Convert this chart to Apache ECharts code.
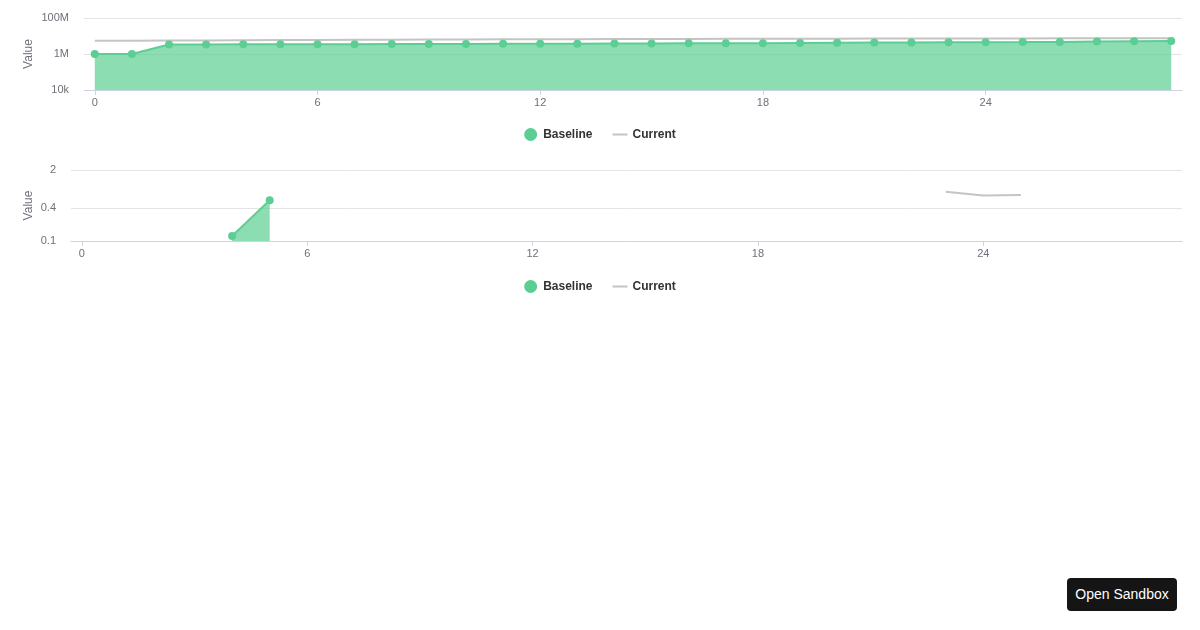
<!DOCTYPE html>
<html>
<head>
<meta charset="utf-8">
<title>Baseline vs Current</title>
<script src="https://cdn.jsdelivr.net/npm/echarts@6/dist/echarts.min.js"></script>
<style>
  html, body { margin: 0; padding: 0; background: #fff; }
  #chart { width: 1200px; height: 630px; }
  #sandbox {
    position: absolute; left: 1067px; top: 578px;
    width: 110px; height: 33px;
    background: #151515; color: #fff; border-radius: 4px;
    font: 14px "Liberation Sans", Arial, sans-serif;
    line-height: 33px; text-align: center;
  }
</style>
</head>
<body>
<div id="chart"></div>
<div id="sandbox">Open Sandbox</div>
<script>
// x 轴：0..29
const steps = [0, 1, 2, 3, 4, 5, 6, 7, 8, 9, 10, 11, 12, 13, 14, 15, 16, 17, 18, 19, 20, 21, 22, 23, 24, 25, 26, 27, 28, 29];
const xTicks = [0, 6, 12, 18, 24];

// 上图（数值很大）
const topBaseline = [1.0e6, 1.0e6, 3.4e6, 3.4e6, 3.45e6, 3.45e6, 3.5e6, 3.5e6, 3.55e6, 3.6e6,
  3.6e6, 3.7e6, 3.7e6, 3.75e6, 3.8e6, 3.85e6, 3.9e6, 3.95e6, 4.0e6, 4.1e6,
  4.2e6, 4.3e6, 4.4e6, 4.5e6, 4.55e6, 4.6e6, 4.7e6, 4.9e6, 5.1e6, 5.3e6];
const topCurrent = [5.4e6, 5.5e6, 5.6e6, 5.7e6, 5.8e6, 5.9e6, 6.0e6, 6.1e6, 6.2e6, 6.3e6,
  6.4e6, 6.5e6, 6.6e6, 6.7e6, 6.8e6, 6.85e6, 6.9e6, 6.95e6, 7.0e6, 7.05e6,
  7.1e6, 7.15e6, 7.2e6, 7.25e6, 7.3e6, 7.35e6, 7.4e6, 7.45e6, 7.5e6, 7.55e6];
const topYTicks = [1e4, 1e6, 1e8];

// 下图（数值很小，大部分为空）
const bottomBaseline = [null, null, null, null, 0.124, 0.56, null, null, null, null,
  null, null, null, null, null, null, null, null, null, null,
  null, null, null, null, null, null, null, null, null, null];
const bottomCurrent = [null, null, null, null, null, null, null, null, null, null,
  null, null, null, null, null, null, null, null, null, null,
  null, null, null, 0.80, 0.68, 0.70, null, null, null, null];
const bottomYTicks = [0.1, 0.4, 2];

const green = '#5dce93';
const gray = '#c4c4c4';
const labelColor = '#6e7079';

const pairs = (vals) => steps.map((x, i) => [x, vals[i]]);

const fmtBig = (v) => {
  if (v >= 1e6) return (v / 1e6) + 'M';
  if (v >= 1e3) return (v / 1e3) + 'k';
  return String(v);
};

function xAxisOf(gridIndex) {
  return {
    type: 'value',
    gridIndex: gridIndex,
    min: -0.29,
    max: 29.29,
    splitLine: { show: false },
    axisLine: { lineStyle: { color: '#ccd3e1' } },
    axisTick: { show: true, length: 5, lineStyle: { color: '#ccd3e1' }, customValues: xTicks },
    axisLabel: { color: labelColor, fontSize: 11, margin: 7, customValues: xTicks }
  };
}

function yAxisOf(gridIndex, min, max, ticks, fmt, nameGap) {
  return {
    type: 'log',
    gridIndex: gridIndex,
    min: min,
    max: max,
    name: 'Value',
    nameLocation: 'middle',
    nameGap: nameGap,
    nameMoveOverlap: false,
    nameTextStyle: { color: labelColor, fontSize: 12 },
    axisLine: { show: false },
    axisTick: { show: false, customValues: ticks },
    axisLabel: { color: labelColor, fontSize: 11, margin: 15, formatter: fmt, customValues: ticks },
    splitLine: { show: true, lineStyle: { color: '#e4e4e4' } }
  };
}

function legendOf(top) {
  return {
    top: top,
    left: 'center',
    itemGap: 20,
    itemWidth: 15,
    itemHeight: 13,
    symbolKeepAspect: true,
    textStyle: { fontWeight: 'bold', fontSize: 12, color: '#333' },
    data: [
      { name: 'Baseline', icon: 'circle' },
      { name: 'Current', icon: 'path://M0,0 H15 V2 H0 Z' }
    ]
  };
}

const chart = echarts.init(document.querySelector('#chart'));
chart.setOption({
  animation: false,
  grid: [
    { left: 84, right: 18, top: 18, height: 72 },
    { left: 71, right: 18, top: 170, height: 71 }
  ],
  legend: [legendOf(123), legendOf(275)],
  xAxis: [xAxisOf(0), xAxisOf(1)],
  yAxis: [
    yAxisOf(0, 1e4, 1e8, topYTicks, fmtBig, 49),
    yAxisOf(1, 0.1, 2, bottomYTicks, (v) => String(v), 36)
  ],
  series: [
    {
      name: 'Baseline',
      type: 'line',
      xAxisIndex: 0,
      yAxisIndex: 0,
      data: pairs(topBaseline),
      symbol: 'circle',
      symbolSize: 8,
      itemStyle: { color: green },
      lineStyle: { color: green, width: 2 },
      areaStyle: { color: green, opacity: 0.7 }
    },
    {
      name: 'Current',
      type: 'line',
      xAxisIndex: 0,
      yAxisIndex: 0,
      data: pairs(topCurrent),
      symbol: 'none',
      itemStyle: { color: gray },
      lineStyle: { color: gray, width: 2 }
    },
    {
      name: 'Baseline',
      type: 'line',
      xAxisIndex: 1,
      yAxisIndex: 1,
      data: pairs(bottomBaseline),
      symbol: 'circle',
      symbolSize: 8,
      itemStyle: { color: green },
      lineStyle: { color: green, width: 2 },
      areaStyle: { color: green, opacity: 0.7 }
    },
    {
      name: 'Current',
      type: 'line',
      xAxisIndex: 1,
      yAxisIndex: 1,
      data: pairs(bottomCurrent),
      symbol: 'none',
      itemStyle: { color: gray },
      lineStyle: { color: gray, width: 2 }
    }
  ]
});
</script>
</body>
</html>
